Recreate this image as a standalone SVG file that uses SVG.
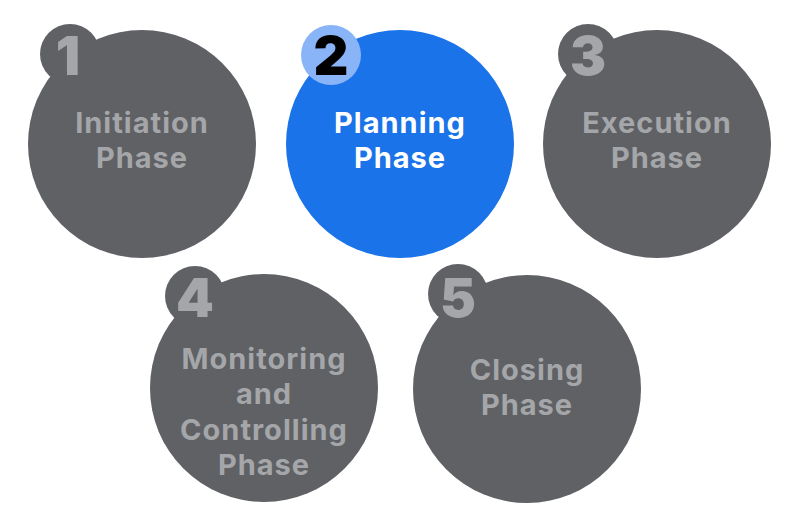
<svg xmlns="http://www.w3.org/2000/svg" width="800" height="527" viewBox="0 0 800 527">
<style>
.big{fill:#5f6165}
.badge{fill:#5f6165}
.lbl{font-family:Inter,"Liberation Sans",sans-serif;font-weight:700;font-size:29px;letter-spacing:1px;fill:#a4a6a9;text-anchor:middle}
.num{font-family:Inter,"Liberation Sans",sans-serif;font-weight:900;font-size:54px;fill:#a4a6a9;text-anchor:middle}
.blue{fill:#1a73e8}
.lblue{fill:#8ab4f8}
.wt{fill:#ffffff}
.bk{fill:#000000}
</style>
<rect width="800" height="527" fill="#ffffff"/>
<g id="node1">
<circle class="badge" cx="70" cy="54" r="30"/>
<circle class="big" cx="142" cy="144" r="114"/>
<text class="num" x="68" y="75">1</text>
<text class="lbl" x="142" y="133">Initiation</text>
<text class="lbl" x="142" y="168">Phase</text>
</g>
<g id="node2">
<circle class="blue" cx="400" cy="144" r="114"/>
<circle class="lblue" cx="331" cy="55" r="30"/>
<text class="num bk" x="331" y="75">2</text>
<text class="lbl wt" x="400" y="133">Planning</text>
<text class="lbl wt" x="400" y="168">Phase</text>
</g>
<g id="node3">
<circle class="badge" cx="588" cy="54" r="30"/>
<circle class="big" cx="657" cy="144" r="114"/>
<text class="num" x="588" y="75">3</text>
<text class="lbl" x="657" y="133">Execution</text>
<text class="lbl" x="657" y="168">Phase</text>
</g>
<g id="node4">
<circle class="badge" cx="195" cy="296" r="30"/>
<circle class="big" cx="264" cy="388" r="114"/>
<text class="num" x="195" y="317">4</text>
<text class="lbl" x="264" y="369">Monitoring</text>
<text class="lbl" x="264" y="404">and</text>
<text class="lbl" x="264" y="440">Controlling</text>
<text class="lbl" x="264" y="475">Phase</text>
</g>
<g id="node5">
<circle class="badge" cx="458" cy="294" r="30"/>
<circle class="big" cx="527" cy="389" r="114"/>
<text class="num" x="458" y="317">5</text>
<text class="lbl" x="527" y="380">Closing</text>
<text class="lbl" x="527" y="415">Phase</text>
</g>
<g id="connectors"></g>
</svg>
